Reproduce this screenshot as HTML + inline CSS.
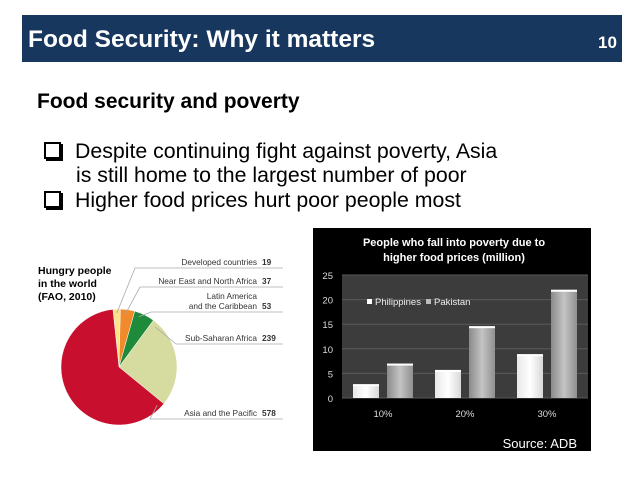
<!DOCTYPE html>
<html><head><meta charset="utf-8"><style>
body{margin:0;width:638px;height:478px;background:#fff;font-family:"Liberation Sans",sans-serif;position:relative;overflow:hidden}
.abs{position:absolute}
.sq{display:inline-block;width:13px;height:13px;border:2px solid #000;box-shadow:2px 2px 0 #000;margin-right:14px;vertical-align:-1px}
</style></head><body>
<div class="abs" style="left:22px;top:15px;width:600px;height:47px;background:#17375e"></div>
<div class="abs" style="left:28px;top:26px;color:#fff;font-weight:bold;font-size:24.5px">Food Security: Why it matters</div>
<div class="abs" style="left:598px;top:33px;color:#fff;font-weight:bold;font-size:17px">10</div>
<div class="abs" style="left:37px;top:90px;font-weight:bold;font-size:21px">Food security and poverty</div>
<div class="abs" style="left:44px;top:139px;font-size:21.3px;line-height:24px"><span class="sq"></span>Despite continuing fight against poverty, Asia<br><span style="padding-left:32px">is still home to the largest number of poor</span></div>
<div class="abs" style="left:44px;top:188px;font-size:21.3px;line-height:24px"><span class="sq"></span>Higher food prices hurt poor people most</div>
<div class="abs" style="left:38px;top:265px;font-size:10.5px;font-weight:bold;line-height:13px">Hungry people<br>in the world<br>(FAO, 2010)</div>
<svg class="abs" style="left:0;top:0" width="638" height="478" id="pie"></svg>
<svg class="abs" style="left:0;top:0" width="638" height="478" id="bar">
<defs>
<linearGradient id="gw" x1="0" x2="1"><stop offset="0" stop-color="#e8e8e8"/><stop offset=".5" stop-color="#ffffff"/><stop offset="1" stop-color="#d8d8d8"/></linearGradient>
<linearGradient id="gg" x1="0" x2="1"><stop offset="0" stop-color="#8a8a8a"/><stop offset=".5" stop-color="#c4c4c4"/><stop offset="1" stop-color="#909090"/></linearGradient>
</defs></svg>
<script>
const pieLabels=["Developed countries","Near East and North Africa","Latin America|and the Caribbean","Sub-Saharan Africa","Asia and the Pacific"];
const pieValues=[19,37,53,239,578];
const pieColors=["#fbe38a","#f08a2a","#1e8a3a","#d6dba0","#c8102e"];
const cats=["10%","20%","30%"];
const phil=[2.8,5.7,8.9];
const pak=[7.0,14.6,22.0];
const yTicks=[0,5,10,15,20,25];
const NS="http://www.w3.org/2000/svg";
function mk(p,t,a){const e=document.createElementNS(NS,t);for(const k in a)e.setAttribute(k,a[k]);p.appendChild(e);return e;}
const pie=document.getElementById('pie');
const cx=119,cy=367,r=58,total=pieValues.reduce((a,b)=>a+b,0);
let ang=-96*Math.PI/180;
const labelY=[265,284,309,341,416];
pieValues.forEach((v,i)=>{
  const a0=ang,a1=ang+v/total*2*Math.PI;ang=a1;
  const x0=cx+r*Math.cos(a0),y0=cy+r*Math.sin(a0),x1=cx+r*Math.cos(a1),y1=cy+r*Math.sin(a1);
  const s=mk(pie,'path',{d:`M${cx},${cy}L${x0},${y0}A${r},${r} 0 ${a1-a0>Math.PI?1:0} 1 ${x1},${y1}Z`,fill:pieColors[i],stroke:'#fff','stroke-width':0.5});
  
  
  const ex=cx+(r-4)*Math.cos(a0+Math.min(0.1,(a1-a0)/2)), ey=cy+(r-4)*Math.sin(a0+Math.min(0.1,(a1-a0)/2));
  const ly=labelY[i]+3;
  const lx=i===4?150:(i===3?176:(i===2?151:(i===1?140:135)));
  const ln=mk(pie,'polyline',{points:`${ex},${ey} ${lx},${ly} 283,${ly}`,fill:'none',stroke:'#aaa','stroke-width':0.8});
  
  
  const parts=pieLabels[i].split('|');
  parts.forEach((p,j)=>{
    const t=mk(pie,'text',{x:257,y:labelY[i]-(parts.length-1-j)*10,'text-anchor':'end','font-size':8.3,fill:'#333','font-family':'Liberation Sans, sans-serif'});
    t.textContent=p;
    
    
  });
  const vt=mk(pie,'text',{x:262,y:labelY[i],'font-size':8.3,'font-weight':'bold',fill:'#333','font-family':'Liberation Sans, sans-serif'});
  vt.textContent=v;
  
  
});
const bar=document.getElementById('bar');
const bg=mk(bar,'rect',{x:313,y:228,width:278,height:223,fill:'#000'});


const px0=342,px1=588,py0=398,py1=275;
const pa=mk(bar,'rect',{x:px0,y:py1,width:px1-px0,height:py0-py1,fill:'#3c3c3c'});


const yS=v=>py0-(v/25)*(py0-py1);
yTicks.forEach(t=>{
  const g=mk(bar,'line',{x1:px0,x2:px1,y1:yS(t),y2:yS(t),stroke:'#5a5a5a','stroke-width':1});
  
  
  const tx=mk(bar,'text',{x:333,y:yS(t)+4,'text-anchor':'end','font-size':9.5,fill:'#ddd','font-family':'Liberation Sans, sans-serif'});
  tx.textContent=t;
  
  
});
const gw=(px1-px0)/cats.length, bw=26;
cats.forEach((c,i)=>{
  const cxx=px0+gw*(i+0.5);
  [[phil,'url(#gw)',-bw-4],[pak,'url(#gg)',4]].forEach(([arr,f,off])=>{
    const b=mk(bar,'rect',{x:cxx+off,y:yS(arr[i]),width:bw,height:py0-yS(arr[i]),fill:f});
    
    
    mk(bar,'rect',{x:cxx+off,y:yS(arr[i]),width:bw,height:2,fill:'#fff'});
  });
  const t=mk(bar,'text',{x:cxx,y:417,'text-anchor':'middle','font-size':9.5,fill:'#ddd','font-family':'Liberation Sans, sans-serif'});
  t.textContent=c;
  
  
});
[["People who fall into poverty due to",246],["higher food prices (million)",261]].forEach(([s,y])=>{
  const t=mk(bar,'text',{x:454,y:y,'text-anchor':'middle','font-size':11,'font-weight':'bold',fill:'#fff','font-family':'Liberation Sans, sans-serif'});
  t.textContent=s;
  
  
});
[["Philippines",367,'#fff'],["Pakistan",426,'#bbb']].forEach(([s,x,c])=>{
  mk(bar,'rect',{x:x,y:299,width:5,height:5,fill:c});
  const t=mk(bar,'text',{x:x+8,y:305,'font-size':9.5,fill:'#eee','font-family':'Liberation Sans, sans-serif'});
  t.textContent=s;
  
  
});
const src=mk(bar,'text',{x:577,y:448,'text-anchor':'end','font-size':13,fill:'#fff','font-family':'Liberation Sans, sans-serif'});
src.textContent='Source: ADB';


</script>
</body></html>
